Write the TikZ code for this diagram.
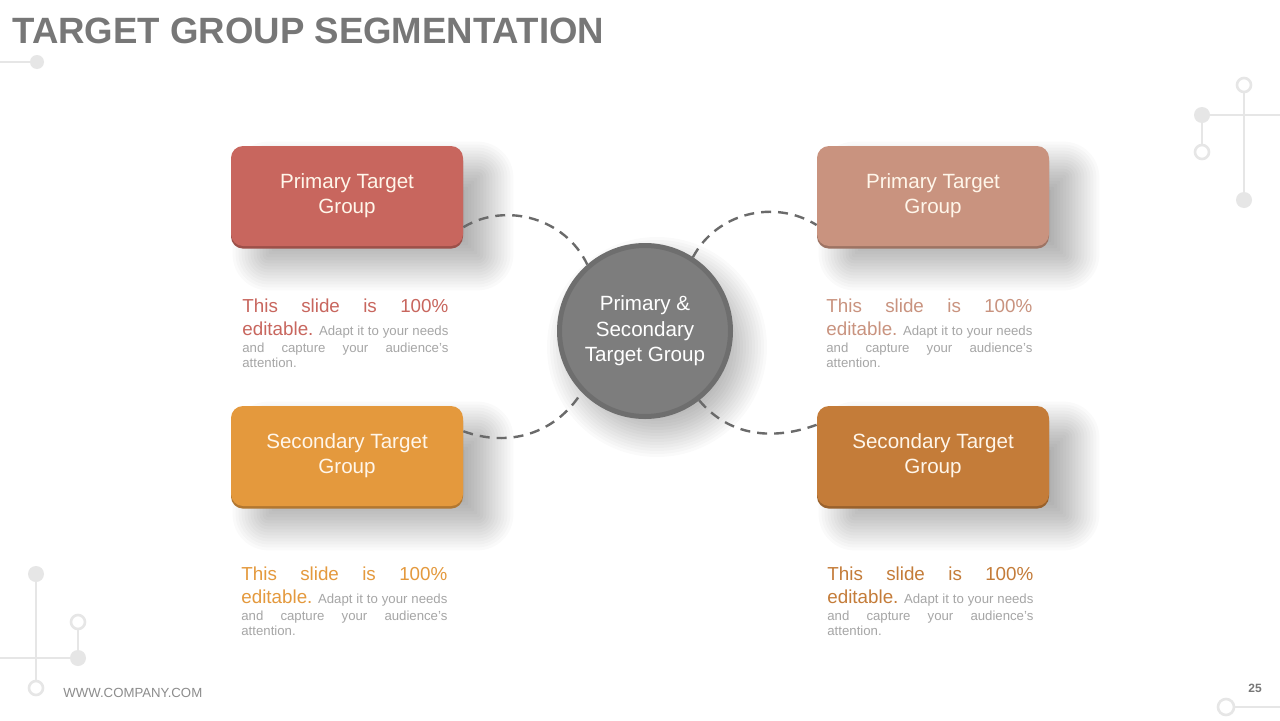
\documentclass[tikz,border=0pt]{standalone}
\usepackage{fontspec}
\setmainfont{Liberation Sans}
\usetikzlibrary{calc,shadows,backgrounds}
\definecolor{titlegray}{HTML}{777777}
\definecolor{decogray}{HTML}{E6E6E6}
\definecolor{footgray}{HTML}{8C8C8C}
\definecolor{blurbgray}{HTML}{A6A6A6}
\definecolor{arcgray}{HTML}{6A6A6A}
\definecolor{hubfill}{HTML}{7D7D7D}
\definecolor{hubring}{HTML}{6E6E6E}
\definecolor{boxtext}{HTML}{FFF6EA}
\definecolor{ptred}{HTML}{C8665E}
\definecolor{ptrose}{HTML}{C9937F}
\definecolor{storange}{HTML}{E4993D}
\definecolor{stochre}{HTML}{C47C39}
\newcommand{\blurbwd}{103pt}
\newcommand{\blurb}[1]{%
  \spaceskip=0pt\xspaceskip=0pt
  \makebox[\blurbwd][s]{\fontsize{9.4}{11}\selectfont\color{#1}This slide is 100\%}\\[4pt]
  \makebox[\blurbwd][s]{{\fontsize{9.4}{11}\selectfont\color{#1}editable.} Adapt it to your needs}\\[1pt]
  \makebox[\blurbwd][s]{and capture your audience's}\\
  attention.}

\begin{document}
\begin{tikzpicture}[
  x=0.5pt, y=0.5pt,
  tgbox/.style={rounded corners=6pt, minimum width=116pt, minimum height=50pt, inner sep=0pt,
    align=center, text=boxtext, font=\fontsize{10.3}{12.5}\selectfont,
    general shadow={fill=#1!78!black, shadow xshift=0pt, shadow yshift=-1.3pt}, fill=#1},
  hubnode/.style={circle, fill=hubfill, draw=hubring, line width=2.5pt, minimum size=85.5pt, inner sep=0pt,
    align=center, text=white, font=\fontsize{10.3}{12.7}\selectfont},
  blurbtext/.style={anchor=north west, inner sep=0pt, text width=\blurbwd, align=left,
    text=blurbgray, font=\fontsize{6.6}{7.5}\selectfont},
  softshade/.style={black, opacity=0.02},
  linkarc/.style={draw=arcgray, line width=1.2pt, dash pattern=on 5pt off 3.5pt},
  decoline/.style={draw=decogray, line width=1pt},
  decodot/.style={fill=decogray},
  decoring/.style={draw=decogray, fill=white, line width=1.3pt}
]
\useasboundingbox (0,0) rectangle (1280,720);

\node[anchor=base west, inner sep=0pt, font=\fontsize{18.3}{22}\selectfont\bfseries, text=titlegray] (title) at (12,677) {TARGET GROUP SEGMENTATION};
\draw[decoline] (0,658) -- (30,658);
\fill[decodot] (37,658) circle[radius=7];

\draw[decoline] (1244,635) -- (1244,520);
\draw[decoline] (1202,605) -- (1280,605);
\draw[decoline] (1202,605) -- (1202,568);
\fill[decodot] (1244,520) circle[radius=8];
\fill[decodot] (1202,605) circle[radius=8];
\draw[decoring] (1244,635) circle[radius=7];
\draw[decoring] (1202,568) circle[radius=7];

\draw[decoline] (36,146) -- (36,32);
\draw[decoline] (0,62) -- (78,62);
\draw[decoline] (78,62) -- (78,98);
\fill[decodot] (36,146) circle[radius=8];
\fill[decodot] (78,62) circle[radius=8];
\draw[decoring] (36,32) circle[radius=7];
\draw[decoring] (78,98) circle[radius=7];

\draw[decoline] (1234,13) -- (1280,13);
\draw[decoring] (1226,13) circle[radius=8];

\node[anchor=base west, inner sep=0pt, font=\fontsize{6.6}{8}\selectfont, text=footgray] (web) at (63,23) {WWW.COMPANY.COM};
\node[inner sep=0pt, font=\fontsize{6}{7}\selectfont\bfseries, text=titlegray] (page) at (1255,32) {25};

\node[tgbox=ptred] (tl) at (347,524) {Primary Target\\Group};
\node[tgbox=ptrose] (tr) at (933,524) {Primary Target\\Group};
\node[tgbox=storange] (bl) at (347,264) {Secondary Target\\Group};
\node[tgbox=stochre] (br) at (933,264) {Secondary Target\\Group};
\node[hubnode] (hub) at (645,389) {Primary \&\\Secondary\\Target Group};

\draw[linkarc] (tl.-15) to[out=31,in=115] (hub.131);
\draw[linkarc] (hub.57) to[out=62,in=148] (tr.194);
\draw[linkarc] (bl.12) to[out=-20,in=238] (hub.224);
\draw[linkarc] (hub.-52) to[out=-50,in=200] (br.165);

\node[blurbtext] (tltext) at (242,422) {\blurb{ptred}};
\node[blurbtext] (trtext) at (826,422) {\blurb{ptrose}};
\node[blurbtext] (bltext) at (241,154) {\blurb{storange}};
\node[blurbtext] (brtext) at (827,154) {\blurb{stochre}};

\begin{pgfonlayer}{background}
\fill[white] (0,0) rectangle (1280,720);
\foreach \b in {tl,tr,bl,br}{
  \foreach \k in {-8,...,8}{
    \pgfmathsetmacro\rr{max(1,6+1.5*\k)}
    \fill[softshade, rounded corners=\rr pt]
      ($(\b.south west)+(26,-20)-(3*\k,3*\k)$) rectangle ($(\b.north east)+(26,-20)+(3*\k,3*\k)$);
  }
}
\foreach \k in {-8,...,8}
  \fill[softshade] ($(hub)+(12,-16)$) circle[radius=86+3*\k];
\end{pgfonlayer}
\end{tikzpicture}
\end{document}
